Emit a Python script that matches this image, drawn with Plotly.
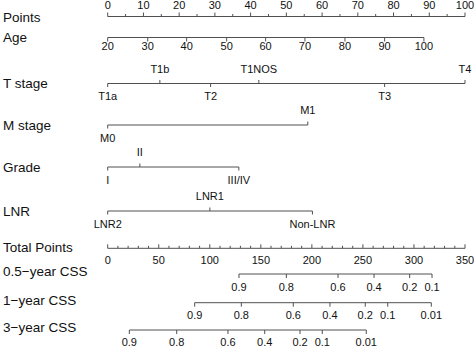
import plotly.graph_objects as go

# ---------------- data ----------------
points_ticks = list(range(0, 101, 5))
points_labels = list(range(0, 101, 10))

age_values = [20, 30, 40, 50, 60, 70, 80, 90, 100]
age_points = [0, 11.2, 22.1, 33.3, 44.2, 55.2, 66.4, 77.5, 88.5]

tstage_levels = ["T1a", "T1b", "T2", "T1NOS", "T3", "T4"]
tstage_points = [0, 14.6, 28.8, 42.3, 77.5, 100]

mstage_levels = ["M0", "M1"]
mstage_points = [0, 56.0]

grade_levels = ["I", "II", "III/IV"]
grade_points = [0, 9.0, 36.7]

lnr_levels = ["LNR2", "LNR1", "Non-LNR"]
lnr_points = [0, 28.6, 57.3]

total_ticks = list(range(0, 351, 10))
total_labels = list(range(0, 351, 50))
total_max = 350

css05_probs = ["0.9", "0.8", "0.6", "0.4", "0.2", "0.1"]
css05_total = [128.6, 175.0, 225.6, 260.9, 295.8, 317.7]

css1_probs = ["0.9", "0.8", "0.6", "0.4", "0.2", "0.1", "0.01"]
css1_total = [85.2, 130.9, 181.8, 217.7, 252.3, 274.3, 317.0]

css3_probs = ["0.9", "0.8", "0.6", "0.4", "0.2", "0.1", "0.01"]
css3_total = [21.2, 67.6, 117.8, 153.8, 188.4, 210.2, 253.3]

row_names = ["Points", "Age", "T stage", "M stage", "Grade", "LNR",
             "Total Points", "0.5\u2212year CSS", "1\u2212year CSS", "3\u2212year CSS"]

# ---------------- layout / style ----------------
W, H = 474, 348
row_y = [16.5, 37.5, 83.5, 125, 167, 211, 248.3, 274, 302.7, 330]
label_y = [17, 37, 83, 125, 167, 211, 247.7, 271.7, 300, 327.7]
LINE = "#505050"
TXT = "#111111"
FONT = "Liberation Sans, Arial, sans-serif"
TICK_FS = 11
LAB_FS = 13.5
X0_PX, X1_PX = 107.7, 465.0
ppx = (X1_PX - X0_PX) / 100.0
xr = [-X0_PX / ppx, (W - X0_PX) / ppx]

fig = go.Figure()


def add_line(xs, y):
    fig.add_trace(go.Scatter(x=[min(xs), max(xs)], y=[y, y], mode="lines",
                             line=dict(color=LINE, width=1), hoverinfo="skip"))


def add_ticks(xs, y, length):
    tx, ty = [], []
    for v in xs:
        tx += [v, v, None]
        ty += [y, y + length, None]
    fig.add_trace(go.Scatter(x=tx, y=ty, mode="lines",
                             line=dict(color=LINE, width=1), hoverinfo="skip"))


def add_labels(xs, ys, texts):
    fig.add_trace(go.Scatter(x=xs, y=ys, text=texts, mode="text",
                             textposition="middle center",
                             textfont=dict(family=FONT, size=TICK_FS, color=TXT),
                             hoverinfo="skip", cliponaxis=False))


# Points axis
y = row_y[0]
add_line(points_ticks, y)
add_ticks([t for t in points_ticks if t % 10], y, -2.5)
add_ticks(points_labels, y, -4)
add_labels(points_labels, [y - 9.8] * len(points_labels), [str(v) for v in points_labels])

# Age axis
y = row_y[1]
add_line(age_points, y)
add_ticks(age_points, y, 4)
add_labels(age_points, [y + 9.8] * len(age_points), [str(v) for v in age_values])

# categorical variables: alternate labels below / above
for idx, (levels, pts) in zip([2, 3, 4, 5], [(tstage_levels, tstage_points),
                                             (mstage_levels, mstage_points),
                                             (grade_levels, grade_points),
                                             (lnr_levels, lnr_points)]):
    y = row_y[idx]
    add_line(pts, y)
    order = sorted(range(len(pts)), key=lambda i: pts[i])
    below = [order[k] for k in range(len(order)) if k % 2 == 0]
    above = [order[k] for k in range(len(order)) if k % 2 == 1]
    add_ticks([pts[i] for i in below], y, 3.5)
    add_ticks([pts[i] for i in above], y, -3.5)
    add_labels([pts[i] for i in below], [y + 13.8] * len(below), [levels[i] for i in below])
    add_labels([pts[i] for i in above], [y - 13.5] * len(above), [levels[i] for i in above])

# Total points axis (mapped onto points scale)
def tp(v):
    return v * 100.0 / total_max

y = row_y[6]
add_line([tp(v) for v in total_ticks], y)
add_ticks([tp(v) for v in total_ticks if v % 50], y, -2.5)
add_ticks([tp(v) for v in total_labels], y, -4)
add_labels([tp(v) for v in total_labels], [y + 13.4] * len(total_labels),
           [str(v) for v in total_labels])

# CSS axes
for idx, probs, tot, off in [(7, css05_probs, css05_total, 14),
                             (8, css1_probs, css1_total, 14),
                             (9, css3_probs, css3_total, 13.3)]:
    y = row_y[idx]
    xs = [tp(v) for v in tot]
    add_line(xs, y)
    add_ticks(xs, y, 4)
    add_labels(xs, [y + off] * len(xs), probs)

# row names
for name, ly in zip(row_names, label_y):
    fig.add_annotation(x=0.5 / W, xref="paper", y=ly, yref="y", text=name,
                       showarrow=False, xanchor="left", yanchor="middle",
                       font=dict(family=FONT, size=LAB_FS, color=TXT))

fig.update_layout(
    width=W, height=H, margin=dict(l=0, r=0, t=0, b=0),
    paper_bgcolor="white", plot_bgcolor="white", showlegend=False,
    xaxis=dict(range=xr, visible=False, fixedrange=True),
    yaxis=dict(range=[H, 0], visible=False, fixedrange=True),
)

fig.write_html("out.html")
